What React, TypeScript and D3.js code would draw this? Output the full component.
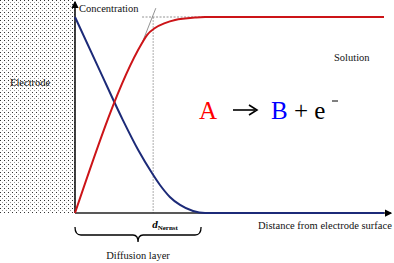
import React from 'react';
import * as d3 from 'd3';

// concentration profiles (distance 0..100, concentration 0..1)
const redDistance = [0, 21.7, 23.3, 25.9, 29.1, 32.4, 35.6, 38.8, 42.1, 100];
const redConc = [0, 0.867, 0.908, 0.944, 0.969, 0.985, 0.992, 0.997, 1.0, 1.0];
const blueDistance = [0, 8.1, 15.5, 20.5, 24.9, 27.5, 30.7, 34.0, 38.2, 42.1, 100];
const blueConc = [1, 0.724, 0.474, 0.32, 0.204, 0.143, 0.082, 0.041, 0.01, 0, 0];
const nernstDistance = 25.3;
const diffusionEnd = 40.8;

const W = 394;
const H = 263;

const App = () => {
  const x = d3.scaleLinear().domain([0, 100]).range([75, 384]);
  const y = d3.scaleLinear().domain([0, 1]).range([213, 17]);

  const line = d3
    .line<[number, number]>()
    .x(d => x(d[0]))
    .y(d => y(d[1]))
    .curve(d3.curveMonotoneX);

  const redPts = redDistance.map((d, i) => [d, redConc[i]] as [number, number]);
  const bluePts = blueDistance.map((d, i) => [d, blueConc[i]] as [number, number]);

  // tangent of the linear part of the red profile
  const slope = redConc[1] / redDistance[1];
  const tanStart = redPts[1];
  const tanEndC = 1.045;
  const tanEndD = tanEndC / slope;

  const xN = x(nernstDistance);
  const x0 = x(0);
  const x1 = x(diffusionEnd);
  const mid = (x0 + x1) / 2;
  const by = 231;
  const brace = `M${x0},${by - 4} Q${x0},${by + 4} ${x0 + 6},${by + 4} L${mid - 5},${by + 4} Q${mid},${by + 4} ${mid},${by + 11} Q${mid},${by + 4} ${mid + 5},${by + 4} L${x1 - 6},${by + 4} Q${x1},${by + 4} ${x1},${by - 4}`;

  const serif = "'Liberation Serif', 'Times New Roman', serif";

  return (
    <svg width={W} height={H} style={{ position: 'absolute', left: 0, top: 0, fontFamily: serif }}>
      <defs>
        <pattern id="dots" width="4" height="4" patternUnits="userSpaceOnUse">
          <rect width="4" height="4" fill="#fff" />
          <rect x="0" y="0" width="1" height="1" fill="#333" />
          <rect x="2" y="2" width="1" height="1" fill="#999" />
        </pattern>
        <marker id="arr" viewBox="0 0 6 6" refX="5" refY="3" markerWidth="5" markerHeight="5" orient="auto">
          <path d="M0,0 L6,3 L0,6 z" fill="#000" />
        </marker>
      </defs>
      <rect width={W} height={H} fill="#fff" />
      <rect x={0} y={0} width={x0} height={y(0)} fill="url(#dots)" />
      <text x={10} y={86} fontSize={10.5} fill="#111">Electrode</text>

      {/* guide lines */}
      <line x1={xN} x2={xN} y1={y(1)} y2={y(0)} stroke="#bbb" strokeWidth={1.2} strokeDasharray="2,1" />
      <line x1={x(21.7)} x2={x(42)} y1={y(1)} y2={y(1)} stroke="#777" strokeWidth={0.8} strokeDasharray="2,1.5" />
      <line x1={x(tanStart[0])} y1={y(tanStart[1])} x2={x(tanEndD)} y2={y(tanEndC)} stroke="#777" strokeWidth={0.8} />

      {/* axes */}
      <line x1={x0} x2={391} y1={y(0)} y2={y(0)} stroke="#222" strokeWidth={1.5} markerEnd="url(#arr)" />
      <line x1={x0} x2={x0} y1={y(0)} y2={2} stroke="#000" strokeWidth={1.5} markerEnd="url(#arr)" />

      <path d={line(bluePts) || ''} fill="none" stroke="#1c2a78" strokeWidth={2} />
      <path d={line(redPts) || ''} fill="none" stroke="#cc1418" strokeWidth={2} />

      <text x={79} y={12} fontSize={10.5} fill="#111">Concentration</text>
      <text x={334} y={61} fontSize={10.5} fill="#111">Solution</text>
      <text x={258} y={229} fontSize={10.5} fill="#111">Distance from electrode surface</text>

      <text x={199} y={119} fontSize={25} fill="#f00">A</text>
      <line x1={233} x2={255} y1={110} y2={110} stroke="#000" strokeWidth={1.6} />
      <path d="M249,105 L257,110 L249,115" fill="none" stroke="#000" strokeWidth={1.6} />
      <text x={271} y={119} fontSize={25} fill="#00f">B</text>
      <text x={294} y={119} fontSize={25} fill="#000">+ e</text>
      <line x1={332} x2={338} y1={101} y2={101} stroke="#000" strokeWidth={1} />

      <text x={xN - 1} y={228} fontSize={11} fontWeight="bold" fontStyle="italic" fill="#000">
        d<tspan fontSize={7} fontStyle="normal" dy={2}>Nernst</tspan>
      </text>

      <path d={brace} fill="none" stroke="#000" strokeWidth={1.3} />
      <text x={mid} y={259} fontSize={10.5} textAnchor="middle" fill="#111">Diffusion layer</text>
    </svg>
  );
};

export default App;
